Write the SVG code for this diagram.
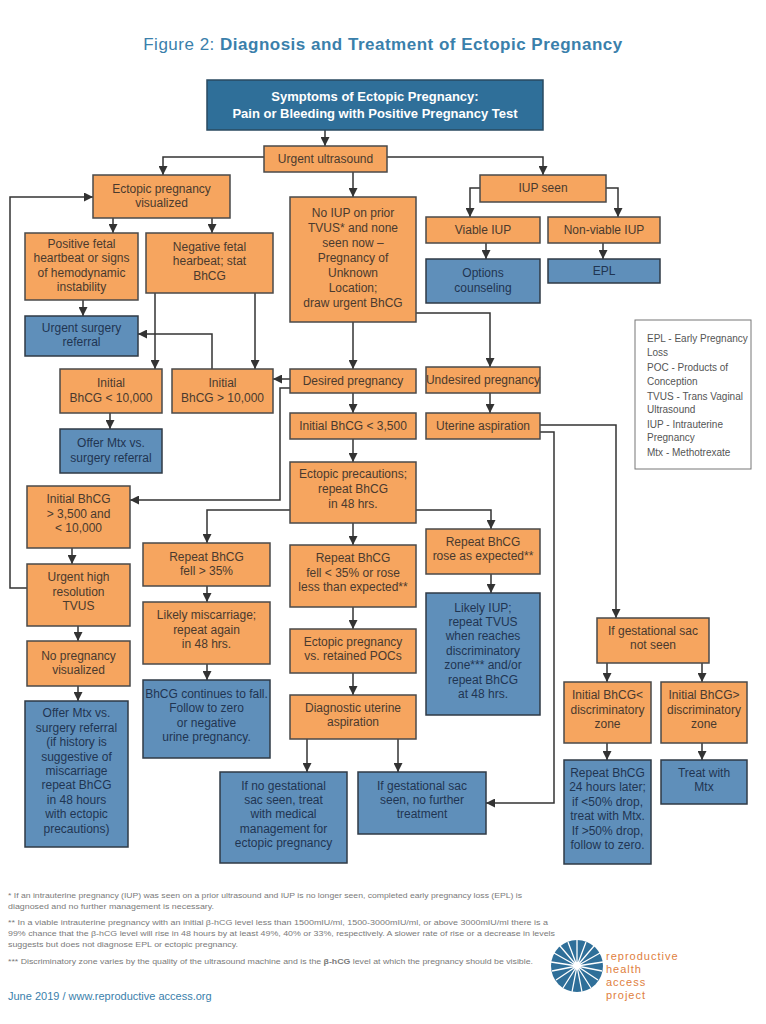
<svg xmlns="http://www.w3.org/2000/svg" width="766" height="1024" viewBox="0 0 766 1024">
<style>
text{font-family:"Liberation Sans",Arial,sans-serif;}
.o rect{fill:#f6a55f;stroke:#4a4a4a;stroke-width:1.5;}
.b rect{fill:#5f8fba;stroke:#2f3a45;stroke-width:1.5;}
.o text{fill:#4a3a2e;font-size:12px;text-anchor:middle;}
.b text{fill:#1f3552;font-size:12px;text-anchor:middle;}
.c path{fill:none;stroke:#333;stroke-width:1.5;marker-end:url(#ah);}
.lg{fill:#555;font-size:10px;}
.fn{fill:#7a7a7a;font-size:8px;}
.logo{fill:#e0803e;font-size:11px;letter-spacing:1px;}
</style>
<defs><marker id="ah" markerUnits="userSpaceOnUse" markerWidth="9" markerHeight="9" refX="10" refY="5" viewBox="0 0 10 10" orient="auto"><path d="M0,0 L10,5 L0,10 z" fill="#333"/></marker></defs>
<rect width="766" height="1024" fill="#fff"/>
<text x="383" y="50" text-anchor="middle" font-size="17" fill="#3a80ab" letter-spacing="0.5">Figure 2: <tspan font-weight="bold">Diagnosis and Treatment of Ectopic Pregnancy</tspan></text>

<g class="c">
<path d="M325,130 V146"/><path d="M264,157 H163 V175"/><path d="M387,157 H543 V175"/><path d="M353,172 V197"/>
<path d="M113,218 V233"/><path d="M212,218 V233"/><path d="M83,300 V316"/>
<path d="M155,293 V369"/><path d="M255,293 V369"/><path d="M212,369 V334 H138"/><path d="M110,413 V429"/>
<path d="M290,379 H273"/><path d="M290,388 H280 V500 H130"/><path d="M353,322 V369"/><path d="M416,313 H490 V367"/>
<path d="M353,393 V413"/><path d="M490,393 V413"/><path d="M540,425 H616 V618"/><path d="M540,432 H554 V803 H486"/>
<path d="M480,188 H470 V217"/><path d="M606,188 H618 V217"/><path d="M486,243 V259"/><path d="M603,243 V259"/>
<path d="M353,439 V462"/><path d="M290,510 H207 V543"/><path d="M416,510 H491 V529"/><path d="M353,523 V545"/>
<path d="M72,548 V564"/><path d="M27,588 H10 V197 H93"/><path d="M78,626 V641"/><path d="M78,686 V701"/>
<path d="M207,586 V602"/><path d="M207,664 V680"/><path d="M353,607 V629"/><path d="M353,673 V695"/>
<path d="M307,739 V772"/><path d="M398,739 V772"/><path d="M491,574 V593"/>
<path d="M607,663 V682"/><path d="M702,663 V682"/><path d="M607,743 V760"/><path d="M702,743 V760"/>
</g>

<g id="top"><rect x="207" y="80" width="336" height="50" fill="#2f6f99" stroke="#2a4a60" stroke-width="1.5"/>
<text x="375" y="101" text-anchor="middle" font-size="13" font-weight="bold" fill="#fff">Symptoms of Ectopic Pregnancy:</text>
<text x="375" y="118" text-anchor="middle" font-size="13" font-weight="bold" fill="#fff">Pain or Bleeding with Positive Pregnancy Test</text></g>
<g id="us" class="o"><rect x="264" y="146" width="123" height="26"/><text x="325.5" y="163">Urgent ultrasound</text></g>
<g id="ecto" class="o"><rect x="93" y="175" width="137" height="43"/><text x="161.5" y="193">Ectopic pregnancy</text><text x="161.5" y="207">visualized</text></g>
<g id="iup" class="o"><rect x="480" y="175" width="126" height="27"/><text x="543" y="192">IUP seen</text></g>
<g id="noiup" class="o"><rect x="290" y="197" width="126" height="125"/><text x="353" y="217">No IUP on prior</text><text x="353" y="232">TVUS* and none</text><text x="353" y="247">seen now –</text><text x="353" y="262">Pregnancy of</text><text x="353" y="277">Unknown</text><text x="353" y="292">Location;</text><text x="353" y="307">draw urgent BhCG</text></g>
<g id="pos" class="o"><rect x="25" y="233" width="113" height="67"/><text x="81.5" y="248">Positive fetal</text><text x="81.5" y="262">heartbeat or signs</text><text x="81.5" y="277">of hemodynamic</text><text x="81.5" y="291">instability</text></g>
<g id="neg" class="o"><rect x="146" y="233" width="127" height="60"/><text x="209.5" y="251">Negative fetal</text><text x="209.5" y="265">hearbeat; stat</text><text x="209.5" y="280">BhCG</text></g>
<g id="surg" class="b"><rect x="25" y="316" width="113" height="40"/><text x="81.5" y="332">Urgent surgery</text><text x="81.5" y="346">referral</text></g>
<g id="lt10" class="o"><rect x="60" y="369" width="102" height="44"/><text x="111" y="387">Initial</text><text x="111" y="402">BhCG &lt; 10,000</text></g>
<g id="gt10" class="o"><rect x="172" y="369" width="101" height="44"/><text x="222.5" y="387">Initial</text><text x="222.5" y="402">BhCG &gt; 10,000</text></g>
<g id="mtx1" class="b"><rect x="60" y="429" width="102" height="44"/><text x="111" y="447">Offer Mtx vs.</text><text x="111" y="462">surgery referral</text></g>
<g id="des" class="o"><rect x="290" y="369" width="126" height="24"/><text x="353" y="385">Desired pregnancy</text></g>
<g id="undes" class="o"><rect x="426" y="367" width="114" height="26"/><text x="483" y="384">Undesired pregnancy</text></g>
<g id="lt35" class="o"><rect x="290" y="413" width="126" height="26"/><text x="353" y="430">Initial BhCG &lt; 3,500</text></g>
<g id="ua" class="o"><rect x="426" y="413" width="114" height="26"/><text x="483" y="430">Uterine aspiration</text></g>
<g id="viable" class="o"><rect x="426" y="217" width="114" height="26"/><text x="483" y="234">Viable IUP</text></g>
<g id="nonv" class="o"><rect x="548" y="217" width="112" height="26"/><text x="604" y="234">Non-viable IUP</text></g>
<g id="opt" class="b"><rect x="426" y="259" width="114" height="44"/><text x="483" y="277">Options</text><text x="483" y="292">counseling</text></g>
<g id="epl" class="b"><rect x="548" y="259" width="112" height="24"/><text x="604" y="275">EPL</text></g>
<g id="legend"><rect x="635" y="320" width="116" height="149" fill="#fff" stroke="#777" stroke-width="1"/>
<text class="lg" x="647" y="342">EPL - Early Pregnancy</text><text class="lg" x="647" y="356">Loss</text>
<text class="lg" x="647" y="371">POC - Products of</text><text class="lg" x="647" y="385">Conception</text>
<text class="lg" x="647" y="400">TVUS - Trans Vaginal</text><text class="lg" x="647" y="413">Ultrasound</text>
<text class="lg" x="647" y="428">IUP - Intrauterine</text><text class="lg" x="647" y="441">Pregnancy</text>
<text class="lg" x="647" y="456">Mtx - Methotrexate</text></g>
<g id="prec" class="o"><rect x="290" y="462" width="126" height="61"/><text x="353" y="478">Ectopic precautions;</text><text x="353" y="493">repeat BhCG</text><text x="353" y="508">in 48 hrs.</text></g>
<g id="gt35" class="o"><rect x="27" y="486" width="103" height="62"/><text x="78.5" y="503">Initial BhCG</text><text x="78.5" y="518">&gt; 3,500 and</text><text x="78.5" y="532">&lt; 10,000</text></g>
<g id="hires" class="o"><rect x="27" y="564" width="103" height="62"/><text x="78.5" y="581">Urgent high</text><text x="78.5" y="596">resolution</text><text x="78.5" y="610">TVUS</text></g>
<g id="nopv" class="o"><rect x="27" y="641" width="103" height="45"/><text x="78.5" y="660">No pregnancy</text><text x="78.5" y="674">visualized</text></g>
<g id="mtx2" class="b"><rect x="25" y="701" width="103" height="146"/><text x="76.5" y="717">Offer Mtx vs.</text><text x="76.5" y="732">surgery referral</text><text x="76.5" y="746">(if history is</text><text x="76.5" y="761">suggestive of</text><text x="76.5" y="775">miscarriage</text><text x="76.5" y="789">repeat BhCG</text><text x="76.5" y="804">in 48 hours</text><text x="76.5" y="818">with ectopic</text><text x="76.5" y="833">precautions)</text></g>
<g id="fell" class="o"><rect x="143" y="543" width="127" height="43"/><text x="206.5" y="561">Repeat BhCG</text><text x="206.5" y="575">fell &gt; 35%</text></g>
<g id="misc" class="o"><rect x="143" y="602" width="127" height="62"/><text x="206.5" y="619">Likely miscarriage;</text><text x="206.5" y="634">repeat again</text><text x="206.5" y="648">in 48 hrs.</text></g>
<g id="cont" class="b"><rect x="143" y="680" width="127" height="78"/><text x="206.5" y="698">BhCG continues to fall.</text><text x="206.5" y="712">Follow to zero</text><text x="206.5" y="727">or negative</text><text x="206.5" y="741">urine pregnancy.</text></g>
<g id="fell2" class="o"><rect x="290" y="545" width="126" height="62"/><text x="353" y="562">Repeat BhCG</text><text x="353" y="577">fell &lt; 35% or rose</text><text x="353" y="591">less than expected**</text></g>
<g id="vspoc" class="o"><rect x="290" y="629" width="126" height="44"/><text x="353" y="646">Ectopic pregnancy</text><text x="353" y="660">vs. retained POCs</text></g>
<g id="dua" class="o"><rect x="290" y="695" width="126" height="44"/><text x="353" y="712">Diagnostic uterine</text><text x="353" y="726">aspiration</text></g>
<g id="nosac" class="b"><rect x="220" y="772" width="127" height="91"/><text x="283.5" y="790">If no gestational</text><text x="283.5" y="804">sac seen, treat</text><text x="283.5" y="818">with medical</text><text x="283.5" y="833">management for</text><text x="283.5" y="847">ectopic pregnancy</text></g>
<g id="sac" class="b"><rect x="358" y="772" width="128" height="62"/><text x="422" y="790">If gestational sac</text><text x="422" y="804">seen, no further</text><text x="422" y="818">treatment</text></g>
<g id="rose" class="o"><rect x="426" y="529" width="114" height="45"/><text x="483" y="546">Repeat BhCG</text><text x="483" y="560">rose as expected**</text></g>
<g id="likiup" class="b"><rect x="426" y="593" width="114" height="122"/><text x="483" y="612">Likely IUP;</text><text x="483" y="626">repeat TVUS</text><text x="483" y="640">when reaches</text><text x="483" y="655">discriminatory</text><text x="483" y="669">zone*** and/or</text><text x="483" y="684">repeat BhCG</text><text x="483" y="698">at 48 hrs.</text></g>
<g id="notseen" class="o"><rect x="597" y="618" width="112" height="45"/><text x="653" y="635">If gestational sac</text><text x="653" y="649">not seen</text></g>
<g id="ltd" class="o"><rect x="564" y="682" width="87" height="61"/><text x="607.5" y="699">Initial BhCG&lt;</text><text x="607.5" y="714">discriminatory</text><text x="607.5" y="728">zone</text></g>
<g id="gtd" class="o"><rect x="661" y="682" width="86" height="61"/><text x="704" y="699">Initial BhCG&gt;</text><text x="704" y="714">discriminatory</text><text x="704" y="728">zone</text></g>
<g id="rep24" class="b"><rect x="564" y="760" width="87" height="104"/><text x="607.5" y="777">Repeat BhCG</text><text x="607.5" y="791">24 hours later;</text><text x="607.5" y="806">if &lt;50% drop,</text><text x="607.5" y="820">treat with Mtx.</text><text x="607.5" y="835">If &gt;50% drop,</text><text x="607.5" y="849">follow to zero.</text></g>
<g id="twm" class="b"><rect x="661" y="760" width="86" height="44"/><text x="704" y="777">Treat with</text><text x="704" y="791">Mtx</text></g>

<g id="footnotes">
<text class="fn" x="8" y="898" textLength="514" lengthAdjust="spacingAndGlyphs">* If an intrauterine pregnancy (IUP) was seen on a prior ultrasound and IUP is no longer seen, completed early pregnancy loss (EPL) is</text>
<text class="fn" x="8" y="909" textLength="206" lengthAdjust="spacingAndGlyphs">diagnosed and no further management is necessary.</text>
<text class="fn" x="8" y="925" textLength="540" lengthAdjust="spacingAndGlyphs">** In a viable intrauterine pregnancy with an initial β-hCG level less than 1500mIU/ml, 1500-3000mIU/ml, or above 3000mIU/ml there is a</text>
<text class="fn" x="8" y="936" textLength="547" lengthAdjust="spacingAndGlyphs">99% chance that the β-hCG level will rise in 48 hours by at least 49%, 40% or 33%, respectively.  A slower rate of rise or a decrease in levels</text>
<text class="fn" x="8" y="947" textLength="230" lengthAdjust="spacingAndGlyphs">suggests but does not diagnose EPL or ectopic pregnancy.</text>
<text class="fn" x="8" y="964" textLength="525" lengthAdjust="spacingAndGlyphs">*** Discriminatory zone varies by the quality of the ultrasound machine and is the <tspan font-weight="bold">β-hCG</tspan> level at which the pregnancy should be visible.</text>
<text x="8" y="1000" font-size="11" fill="#3a80ab">June 2019 / www.reproductive access.org</text>
</g>
<g id="logo">
<circle cx="577" cy="966" r="26" fill="#2f6f99"/>
<g stroke="#fff" stroke-width="1.3">
<path d="M577,966 L577,940 M577,966 L586,942 M577,966 L594,946 M577,966 L600,953 M577,966 L603,962 M577,966 L602,971 M577,966 L598,980 M577,966 L591,988 M577,966 L582,992 M577,966 L572,992 M577,966 L563,988 M577,966 L556,980 M577,966 L552,971 M577,966 L551,962 M577,966 L554,953 M577,966 L560,946 M577,966 L568,942"/>
</g>
<text class="logo" x="606" y="960">reproductive</text>
<text class="logo" x="606" y="973">health</text>
<text class="logo" x="606" y="986">access</text>
<text class="logo" x="606" y="999">project</text>
</g>
</svg>
